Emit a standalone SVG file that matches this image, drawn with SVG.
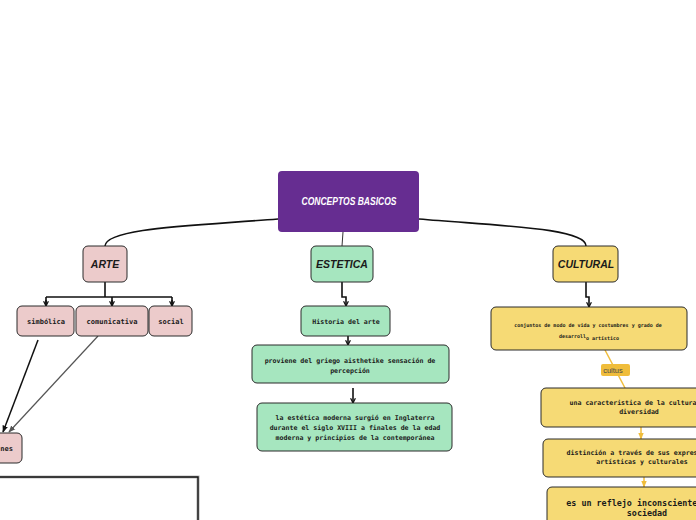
<svg xmlns="http://www.w3.org/2000/svg" width="696" height="520" viewBox="0 0 696 520">
<style>
.n{stroke:#2b2b2b;stroke-width:1}
.pink{fill:#ECCBCB}
.green{fill:#A6E6BF}
.yel{fill:#F6DA75}
.title{font-family:"Liberation Sans","DejaVu Sans",sans-serif;font-weight:bold;font-style:italic;font-size:10.5px;fill:#1a1a1a;text-anchor:middle}
.mono{font-family:"DejaVu Sans Mono","Liberation Mono",monospace;font-weight:bold;fill:#1a1a1a;text-anchor:middle}
.c{fill:none;stroke:#111;stroke-width:1.6}
.y{fill:none;stroke:#F0BD3B;stroke-width:1.5}
</style>
<defs>
<marker id="a" viewBox="0 0 10 10" refX="9" refY="5" markerWidth="6" markerHeight="6" orient="auto" markerUnits="userSpaceOnUse">
<path d="M1,1 L9,5 L1,9" fill="none" stroke="#111" stroke-width="2"/>
</marker>
<marker id="ag" viewBox="0 0 10 10" refX="9" refY="5" markerWidth="7" markerHeight="7" orient="auto" markerUnits="userSpaceOnUse">
<path d="M0,1 L10,5 L0,9 Z" fill="#555"/>
</marker>
<marker id="ab" viewBox="0 0 10 10" refX="9" refY="5" markerWidth="7" markerHeight="7" orient="auto" markerUnits="userSpaceOnUse">
<path d="M0,1 L10,5 L0,9 Z" fill="#111"/>
</marker>
<marker id="ay" viewBox="0 0 10 10" refX="9" refY="5" markerWidth="7" markerHeight="7" orient="auto" markerUnits="userSpaceOnUse">
<path d="M0,1 L10,5 L0,9 Z" fill="#F0BD3B"/>
</marker>
</defs>
<rect width="696" height="520" fill="#fff"/>

<g id="connectors">
<path class="c" d="M278,219 C190,226 106,228 105,246" stroke-width="1.5"/>
<path class="c" d="M419,219 C500,226 586,228 586,246" stroke-width="1.5"/>
<path d="M343,232 L342,246" fill="none" stroke="#333" stroke-width="1"/>
<path class="c" d="M105,282 V297 M46,297 H172 M46,297 V306 M112,297 V306 M172,297 V306" stroke-width="2"/>
<path class="c" d="M46,300 V306" marker-end="url(#a)"/>
<path class="c" d="M112,300 V306" marker-end="url(#a)"/>
<path class="c" d="M172,300 V306" marker-end="url(#a)"/>
<path class="c" d="M342,282 V297 H346 V306" stroke-width="2" marker-end="url(#a)"/>
<path class="c" d="M348,336 V345" stroke-width="2" marker-end="url(#a)"/>
<path class="c" d="M353,388 V403" stroke-width="1.5" marker-end="url(#a)"/>
<path class="c" d="M586,282 V297 H589 V307" stroke-width="2" marker-end="url(#a)"/>
<path d="M38,340 L3,432" fill="none" stroke="#111" stroke-width="1.5" marker-end="url(#ab)"/>
<path d="M98,336 L9,432" fill="none" stroke="#555" stroke-width="1.2" marker-end="url(#ag)"/>
<path d="M0,477 H198 V520" fill="none" stroke="#bbb" stroke-width="3.2"/>
<path d="M0,477 H198 V520" fill="none" stroke="#111" stroke-width="1.4"/>
<path class="y" d="M605,350 L625,388"/>
<path class="y" d="M641,427 V439" marker-end="url(#ay)"/>
<path class="y" d="M644,477 V487" marker-end="url(#ay)"/>
<g id="lbl-cultus">
<rect x="601" y="364" width="29" height="12" rx="2" fill="#F0BD3B"/>
<text x="613" y="373" font-family="Liberation Sans,DejaVu Sans,sans-serif" font-size="7.5" fill="#4a4a4a" text-anchor="middle">cultus</text>
</g>
</g>

<g id="n-root">
<rect x="278" y="171" width="141" height="61" rx="4" fill="#662D91"/>
<text class="title" x="349" y="205" style="fill:#fff;font-size:11px" textLength="95" lengthAdjust="spacingAndGlyphs">CONCEPTOS BASICOS</text>
</g>

<g id="n-arte">
<rect class="n pink" x="83" y="246" width="44" height="36" rx="5"/>
<text class="title" x="105" y="268">ARTE</text>
</g>
<g id="n-simbolica">
<rect class="n pink" x="17" y="306" width="57" height="30" rx="5"/>
<text class="mono" x="46" y="324" font-size="7">simbólica</text>
</g>
<g id="n-comunicativa">
<rect class="n pink" x="76" y="306" width="72" height="30" rx="5"/>
<text class="mono" x="112" y="324" font-size="7" textLength="51" lengthAdjust="spacingAndGlyphs">comunicativa</text>
</g>
<g id="n-social">
<rect class="n pink" x="149" y="306" width="43" height="30" rx="5"/>
<text class="mono" x="171" y="324" font-size="7">social</text>
</g>
<g id="n-funciones">
<rect class="n pink" x="-30" y="433" width="52" height="30" rx="5"/>
<text class="mono" x="13" y="451" font-size="7" style="text-anchor:end">nes</text>
</g>

<g id="n-estetica">
<rect class="n green" x="311" y="246" width="62" height="36" rx="5"/>
<text class="title" x="342" y="268">ESTETICA</text>
</g>
<g id="n-historia">
<rect class="n green" x="301" y="306" width="89" height="30" rx="5"/>
<text class="mono" x="346" y="324" font-size="6.6">Historia del arte</text>
</g>
<g id="n-proviene">
<rect class="n green" x="252" y="345" width="197" height="38" rx="5"/>
<text class="mono" x="350" y="363" font-size="6.6">proviene del griego aisthetike sensación de</text>
<text class="mono" x="350" y="373" font-size="6.6">percepción</text>
</g>
<g id="n-moderna">
<rect class="n green" x="257" y="403" width="195" height="48" rx="5"/>
<text class="mono" x="355" y="420" font-size="6.6">la estética moderna surgió en Inglaterra</text>
<text class="mono" x="355" y="430" font-size="6.6">durante el siglo XVIII a finales de la edad</text>
<text class="mono" x="355" y="440" font-size="6.6">moderna y principios de la contemporánea</text>
</g>

<g id="n-cultural">
<rect class="n yel" x="553" y="246" width="65" height="36" rx="5"/>
<text class="title" x="586" y="268">CULTURAL</text>
</g>
<g id="n-conjuntos">
<rect class="n yel" x="491" y="307" width="196" height="43" rx="5"/>
<text class="mono" x="588" y="327" font-size="5">conjuntos de modo de vida y costumbres y grado de</text>
<text class="mono" x="589" y="338" font-size="5">desarroll<tspan dy="1.5">o artístico</tspan></text>
</g>
<g id="n-caracteristica">
<rect class="n yel" x="541" y="388" width="175" height="39" rx="5"/>
<text class="mono" x="639" y="405" font-size="6.6">una caracteristica de la cultura es</text>
<text class="mono" x="639" y="414" font-size="6.6">diversidad</text>
</g>
<g id="n-distincion">
<rect class="n yel" x="543" y="439" width="175" height="38" rx="5"/>
<text class="mono" x="642" y="455" font-size="6.6">distinción a través de sus expresiones</text>
<text class="mono" x="642" y="464" font-size="6.6">artísticas y culturales</text>
</g>
<g id="n-reflejo">
<rect class="n yel" x="547" y="487" width="180" height="45" rx="5"/>
<text class="mono" x="647" y="506" font-size="8.4">es un reflejo inconsciente de la</text>
<text class="mono" x="647" y="516" font-size="8.4">sociedad</text>
</g>
</svg>
